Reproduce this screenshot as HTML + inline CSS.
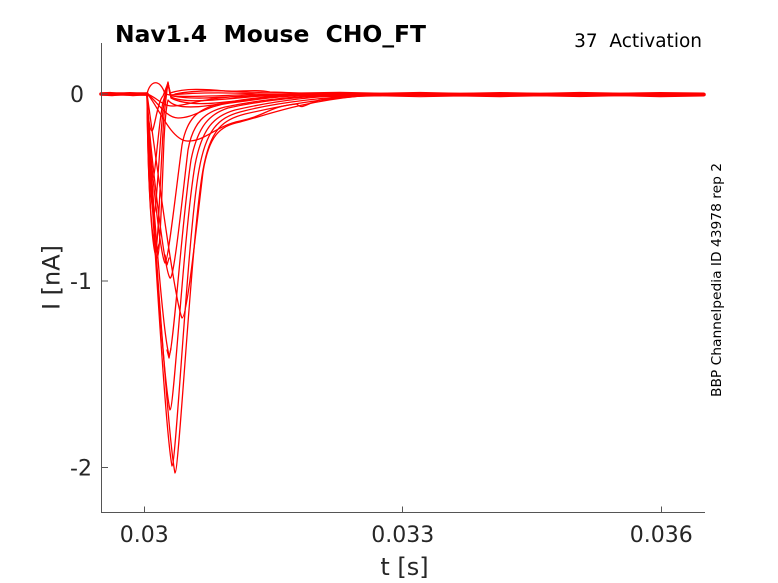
<!DOCTYPE html>
<html>
<head>
<meta charset="utf-8">
<style>
  html, body { margin: 0; padding: 0; background: #ffffff; }
  body { width: 778px; height: 583px; overflow: hidden; }
  svg { display: block; }
  text { font-family: "DejaVu Sans", "Liberation Sans", sans-serif; fill: #262626; }
</style>
</head>
<body>
<svg width="778" height="583" viewBox="0 0 778 583" xmlns="http://www.w3.org/2000/svg">
  <rect x="0" y="0" width="778" height="583" fill="#ffffff"/>

  <!-- Title -->
  <text x="115" y="42" font-size="23" font-weight="bold" style="white-space:pre;fill:#000000" textLength="311" lengthAdjust="spacingAndGlyphs">Nav1.4  Mouse  CHO_FT</text>
  <text x="702" y="47" font-size="18.5" text-anchor="end" style="white-space:pre;fill:#000000">37  Activation</text>

  <!-- Right vertical annotation -->
  <text transform="translate(721,280) rotate(-90)" font-size="13" style="fill:#000000" text-anchor="middle" textLength="234" lengthAdjust="spacingAndGlyphs">BBP Channelpedia ID 43978 rep 2</text>

  <!-- Traces -->
  <g fill="none" stroke="#ff0000" stroke-width="1.3" stroke-linejoin="round" stroke-linecap="round">
    <!-- baseline noisy band -->
    <path d="M101,94 L147,94" stroke-width="3.6"/>
    <path d="M101,93 L110,92.5 L120,93.5 L130,92.6 L140,93.4 L147,93" stroke-width="1.2"/>
    <path d="M101,95 L112,95.6 L122,94.8 L133,95.7 L142,95 L147,95.3" stroke-width="1.2"/>
    <path d="M300,94.5 L704,94.5" stroke-width="3.6"/>
    <path d="M300,93 L340,92.4 L380,93.2 L420,92.5 L460,93.3 L500,92.6 L540,93.4 L580,92.5 L620,93.2 L660,92.6 L704,93.1" stroke-width="1.2"/>
    <path d="M300,96 L340,96.6 L380,95.8 L420,96.7 L460,95.9 L500,96.6 L540,95.8 L580,96.5 L620,95.7 L660,96.6 L704,95.9" stroke-width="1.2"/>

    <!-- above-baseline wavy -->
    <path d="M170,93 C185,88 205,89 225,91 C240,92 255,89 270,92 L300,93"/>
    <path d="M175,94 C195,90 220,90 245,92 C260,93 280,91 300,94"/>

    <!-- outward bump -->
    <path d="M147,94 C150,80 160,78 165,94 L170,95 C190,93 220,92 260,94 L300,94"/>

    <!-- fast group -->
    <path d="M147,94 C148,120 150,131 152,131 C154,131 158,100 163,96 L168,83 L171,96 C190,97 220,96 260,94 L300,94"/>
    <path d="M147,94 C148,150 151,178 153,178 C155,178 159,120 163,102 C165,96 166,90 168,82 L170,95 C185,100 215,98 260,95 L300,94"/>
    <path d="M147,94 C148,170 152,215 154,215 C156,215 160,140 163,110 C165,96 166,92 168,83 L171,97 C185,104 215,100 270,95 L300,94"/>
    <path d="M147,94 C148,190 152,245 156,247 C158,248 161,160 164,115 C166,100 167,88 168,84 L171,98 C190,108 220,103 280,96 L300,95"/>
    <path d="M147,94 C148,200 153,258 157,258 C160,258 162,190 164,140 C165,120 166,108 168,100 C175,110 200,108 230,102 C250,98 270,96 300,95"/>

    <!-- small slow traces -->
    <path d="M147,94 C155,96 162,106 172,106 C185,106 200,99 230,97 L300,95"/>
    <path d="M147,94 C155,98 165,118 178,118 C195,118 205,106 230,103 C255,100 270,97 300,95"/>
    <path d="M147,94 C155,100 170,140 187,141 C205,142 215,126 240,121 C265,116 270,106 297,104 C302,110 305,104 320,100 C335,97 345,96 360,95"/>

    <!-- medium / large traces -->
    <path d="M147,94 C148,140 160,255 165,263 C168,263 176,190 182,145 C187,118 198,110 215,105 C240,100 270,97 310,95"/>
    <path d="M147,94 C149,140 164,270 170,278 C174,280 182,200 188,150 C193,122 205,112 225,107 C250,102 280,97 330,95"/>
    <path d="M147,94 C149,150 162,330 169,355 C173,355 182,220 191,160 C198,125 210,114 228,108 C255,102 290,97 340,95"/>
    <path d="M147,94 C149,160 163,380 170,410 C174,410 184,230 195,165 C202,128 214,116 235,110 C265,103 300,97 350,95"/>
    <path d="M147,94 C151,120 174,300 182,318 C187,318 196,230 203,172 C209,135 220,126 240,122 C270,114 300,102 360,96"/>
    <path d="M147,94 C149,160 165,430 172,466 C176,466 188,230 199,170 C206,130 218,118 240,112 C270,104 310,98 370,95"/>
    <path d="M147,94 C149,160 168,440 175,473 C179,473 192,230 203,170 C210,130 222,120 245,114 C280,106 320,98 380,95"/>

    <!-- notches -->
    <path d="M155,240 L157,252 L159,244"/>
    <path d="M165,255 L167,265 L169,258"/>
    <path d="M167,350 L169,358 L171,348"/>
  </g>

  <!-- Axes -->
  <g stroke="#555555" stroke-width="1" fill="none">
    <path d="M101.5,43 V512.5"/>
    <path d="M101,512.5 H705"/>
    <!-- y ticks -->
    <path d="M101.5,94 h6.5"/>
    <path d="M101.5,281 h6.5"/>
    <path d="M101.5,467.5 h6.5"/>
    <!-- x ticks -->
    <path d="M144.5,512.5 v-6"/>
    <path d="M402.5,512.5 v-6"/>
    <path d="M661.5,512.5 v-6"/>
  </g>

  <!-- Tick labels -->
  <text x="70" y="102" font-size="22">0</text>
  <text x="70" y="289" font-size="22">-1</text>
  <text x="70" y="475.5" font-size="22">-2</text>

  <text x="144.3" y="542" font-size="22" text-anchor="middle">0.03</text>
  <text x="402.8" y="542" font-size="22" text-anchor="middle">0.033</text>
  <text x="661.3" y="542" font-size="22" text-anchor="middle">0.036</text>

  <!-- Axis labels -->
  <text x="404.5" y="575" font-size="24" text-anchor="middle">t [s]</text>
  <text transform="translate(59.5,277.5) rotate(-90)" font-size="24" text-anchor="middle">I [nA]</text>
</svg>
</body>
</html>
